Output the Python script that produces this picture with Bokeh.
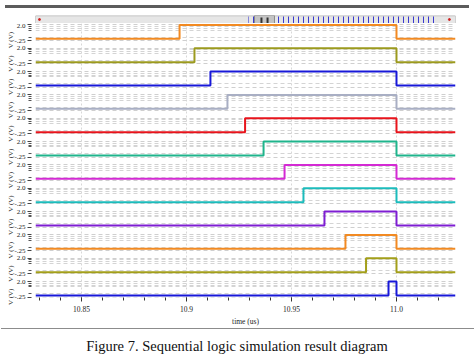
import math
from bokeh.plotting import figure
from bokeh.models import Range1d, FixedTicker, LinearAxis, Div
from bokeh.layouts import column
from bokeh.embed import file_html
from bokeh.resources import INLINE

# ---------------- data ----------------
rise_us = [10.8967, 10.9038, 10.9114, 10.9195, 10.9279, 10.9367,
           10.9467, 10.9557, 10.9657, 10.9757, 10.9855, 10.9962]
fall_us = [11.0, 11.0, 11.0, 11.0, 11.0, 11.0,
           11.0, 11.0, 11.0, 11.0, 11.0, 11.0]
v_low = 0.0
v_high = 2.0
trace_colors = ["#f28a22", "#9c9a1e", "#1818d8", "#a9afc4", "#e8141c", "#1fb48c",
                "#d42ad4", "#1cbcbc", "#7e1ed2", "#f28a22", "#a39f1a", "#1818d8"]

x_major = [10.85, 10.9, 10.95, 11.0]
x_major_labels = ["10.85", "10.9", "10.95", "11.0"]
x_minor = [10.83, 10.84, 10.85, 10.86, 10.87, 10.88, 10.89, 10.9, 10.91, 10.92,
           10.93, 10.94, 10.95, 10.96, 10.97, 10.98, 10.99, 11.0, 11.01, 11.02]
y_high_label = "2.0"
y_low_label = "-.25"
y_low_tick = -0.25
y_minor_levels = [1.75, 1.5, 1.25, 0.25]
y_axis_text = "V (V)"
x_axis_text = "time (us)"
caption = "Figure 7. Sequential logic simulation result diagram"

x_start, x_end = 10.8281, 11.0281

# scrollbar decoration (time units)
scroll_thumb = [10.9324, 10.9419]
scroll_grip = [10.9357, 10.9386]
scroll_marks = [10.9295, 11.0181]
scroll_run_start = [10.8343, 10.8595, 10.9295]
scroll_run_end = [10.8452, 10.8867, 11.0181]
scroll_red = [10.8300, 11.0252]

# ---------------- layout constants ----------------
ROW_PITCH = 3.357
N = len(rise_us)
bases = [round(-i * ROW_PITCH, 4) for i in range(N)]
y_top = v_high + 0.2
y_bot = bases[-1] - 0.29

W = 464
ML, MR = 35, 9

# ---------------- main figure ----------------
p = figure(width=W, height=305, x_range=Range1d(x_start, x_end),
           y_range=Range1d(y_bot, y_top), output_backend="svg",
           toolbar_location=None, min_border_left=ML, min_border_right=MR,
           min_border_top=0, min_border_bottom=29)
p.outline_line_color = None
p.background_fill_color = "white"
p.border_fill_color = "white"

xs, ys = [], []
for i in range(N):
    b = bases[i]
    r, f = rise_us[i], fall_us[i]
    xs.append([x_start, r, r, f, f, x_end])
    ys.append([b + v_low, b + v_low, b + v_high, b + v_high, b + v_low, b + v_low])
p.multi_line(xs=xs, ys=ys, line_color=trace_colors, line_width=2)

# y axis ticks
y_major, overrides = [], {}
y_minor = []
for b in bases:
    hi = round(b + v_high, 4)
    lo = round(b + y_low_tick, 4)
    y_major += [hi, lo]
    overrides[hi] = y_high_label
    overrides[lo] = y_low_label
    y_minor += [round(b + m, 4) for m in y_minor_levels]
p.yaxis.ticker = FixedTicker(ticks=y_major, minor_ticks=y_minor)
p.yaxis.major_label_overrides = overrides
p.yaxis.axis_line_color = None
p.yaxis.major_tick_in = -4
p.yaxis.major_tick_out = 8
p.yaxis.minor_tick_in = -4
p.yaxis.minor_tick_out = 7
p.yaxis.major_tick_line_color = "#444444"
p.yaxis.minor_tick_line_color = "#555555"
p.yaxis.major_label_standoff = 2
p.yaxis.major_label_text_font = "Liberation Serif"
p.yaxis.major_label_text_font_size = "7px"
p.yaxis.major_label_text_color = "#222222"

# second (outer) left axis carrying the per-row "V (V)" labels
row_centers = [round(b + 1.0, 4) for b in bases]
lab_axis = LinearAxis(ticker=FixedTicker(ticks=row_centers, minor_ticks=[]),
                      major_label_overrides={c: y_axis_text for c in row_centers},
                      major_label_orientation=math.pi / 2,
                      axis_line_color=None, major_tick_line_color=None,
                      minor_tick_line_color=None, major_tick_in=0, major_tick_out=0,
                      major_label_standoff=0,
                      major_label_text_font="Liberation Serif",
                      major_label_text_font_size="7px",
                      major_label_text_color="#222222")
p.add_layout(lab_axis, "left")

# x axis
p.xaxis.ticker = FixedTicker(ticks=x_major, minor_ticks=x_minor)
p.xaxis.major_label_overrides = dict(zip(x_major, x_major_labels))
p.xaxis.axis_line_color = None
p.xaxis.major_tick_in = 0
p.xaxis.major_tick_out = 4
p.xaxis.minor_tick_in = 0
p.xaxis.minor_tick_out = 3
p.xaxis.major_tick_line_color = "#333333"
p.xaxis.minor_tick_line_color = "#333333"
p.xaxis.major_label_standoff = 4
p.xaxis.major_label_text_font = "Liberation Serif"
p.xaxis.major_label_text_font_size = "7.5px"
p.xaxis.major_label_text_color = "#222222"
p.xaxis.axis_label = x_axis_text
p.xaxis.axis_label_standoff = 2
p.xaxis.axis_label_text_font = "Liberation Serif"
p.xaxis.axis_label_text_font_size = "7.5px"
p.xaxis.axis_label_text_font_style = "normal"
p.xaxis.axis_label_text_color = "#222222"

# grids
p.ygrid.grid_line_color = "#cfcfcf"
p.ygrid.grid_line_dash = "4 3"
p.ygrid.minor_grid_line_color = "#d4d4d4"
p.ygrid.minor_grid_line_dash = "4 3"
p.xgrid.grid_line_color = "#d8d8d8"
p.xgrid.grid_line_dash = "2 2"

# ---------------- scrollbar strip ----------------
sb = figure(width=W, height=10, x_range=p.x_range, y_range=Range1d(0, 1),
            output_backend="svg", toolbar_location=None,
            min_border_left=ML, min_border_right=MR, min_border_top=0, min_border_bottom=0)
sb.axis.visible = False
sb.grid.visible = False
sb.outline_line_color = None
sb.quad(left=[x_start], right=[x_end], bottom=[0.05], top=[0.98],
        fill_color="#e6e6e6", line_color="#a8a8a8", line_width=1)
sb.quad(left=[scroll_marks[0]], right=[scroll_marks[1]], bottom=[0.12], top=[0.9],
        fill_color=None, line_color=None, hatch_pattern="|", hatch_color="#3a3ad0",
        hatch_scale=5, hatch_weight=1)
sb.segment(x0=scroll_run_start, x1=scroll_run_end, y0=[0.15] * 3, y1=[0.15] * 3,
           line_color="#4a4ad8", line_width=1.5)
sb.quad(left=[scroll_thumb[0]], right=[scroll_thumb[1]], bottom=[0.02], top=[1.0],
        fill_color="#c4c4c4", line_color="#8a8a8a")
sb.segment(x0=scroll_grip, x1=scroll_grip, y0=[0.2, 0.2], y1=[0.8, 0.8],
           line_color="#333333", line_width=2)
sb.scatter(x=scroll_red, y=[0.6, 0.6], size=2, color="#d02020")

band = Div(text="", width=W, height=3, styles={"background-color": "#5c5c5c"})

box = column(band, sb, p, spacing=0,
             styles={"box-shadow": "1px 1px 0 #8c8c8c"})

cap = Div(text=('<div style="width:464px;text-align:center;font-family:\'Liberation Serif\';'
                'font-size:14.5px;color:#111;padding-top:3px;white-space:nowrap">'
                + caption + '</div>'), width=W, height=23)

layout = column(box, cap, spacing=0)

open("out.html", "w").write(file_html(layout, INLINE))
